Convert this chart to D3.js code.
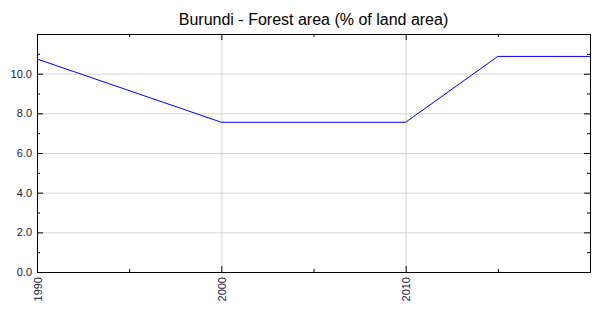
<!DOCTYPE html>
<html>
<head>
<meta charset="utf-8">
<script src="https://cdn.jsdelivr.net/npm/d3@7"></script>
<style>
  body { margin: 0; background: #fff; }
  text { font-family: "Liberation Sans", Arial, sans-serif; }
</style>
</head>
<body>
<svg width="600" height="315"></svg>
<script>
// data
const years = [1990, 2000, 2010, 2015, 2020];
const forestPct = [10.74, 7.55, 7.55, 10.87, 10.87];
const yTicks = [0, 2, 4, 6, 8, 10];
const xTicks = [1990, 2000, 2010];
const title = "Burundi - Forest area (% of land area)";

const svg = d3.select("svg");
const padL = 37, padR = 590, padT = 34, padB = 272;

const x = d3.scaleLinear().domain([1990, 2020]).range([padL, padR]);
const y = d3.scaleLinear().domain([0, 12]).range([padB, padT]);

// grid
svg.append("g").selectAll("line").data(yTicks.filter(d => d > 0)).enter().append("line")
  .attr("x1", padL).attr("x2", padR)
  .attr("y1", d => y(d) + 0.5).attr("y2", d => y(d) + 0.5)
  .attr("stroke", "#d3d3d3");
svg.append("g").selectAll("line").data(xTicks.filter(d => d > 1990)).enter().append("line")
  .attr("y1", padT).attr("y2", padB)
  .attr("x1", d => x(d) + 0.5).attr("x2", d => x(d) + 0.5)
  .attr("stroke", "#d3d3d3");

// inner ticks on all four sides
let yMinor = d3.range(1, 12, 2), xMinor = [1995, 2005, 2015];
let tk = svg.append("g").attr("stroke", "#000");
yTicks.forEach(d => {
  tk.append("line").attr("x1", padL).attr("x2", padL + 6).attr("y1", y(d) + 0.5).attr("y2", y(d) + 0.5);
  tk.append("line").attr("x1", padR).attr("x2", padR - 6).attr("y1", y(d) + 0.5).attr("y2", y(d) + 0.5);
});
yMinor.forEach(d => {
  tk.append("line").attr("x1", padL).attr("x2", padL + 3).attr("y1", y(d) + 0.5).attr("y2", y(d) + 0.5);
  tk.append("line").attr("x1", padR).attr("x2", padR - 3).attr("y1", y(d) + 0.5).attr("y2", y(d) + 0.5);
});
xTicks.forEach(d => {
  tk.append("line").attr("y1", padB).attr("y2", padB - 6).attr("x1", x(d) + 0.5).attr("x2", x(d) + 0.5);
  tk.append("line").attr("y1", padT).attr("y2", padT + 6).attr("x1", x(d) + 0.5).attr("x2", x(d) + 0.5);
});
xMinor.forEach(d => {
  tk.append("line").attr("y1", padB).attr("y2", padB - 3).attr("x1", x(d) + 0.5).attr("x2", x(d) + 0.5);
  tk.append("line").attr("y1", padT).attr("y2", padT + 3).attr("x1", x(d) + 0.5).attr("x2", x(d) + 0.5);
});

// the series
const line = d3.line().x(d => x(d[0])).y(d => y(d[1]));
svg.append("path")
  .datum(years.map((yr, i) => [yr, forestPct[i]]))
  .attr("d", line)
  .attr("fill", "none")
  .attr("stroke", "#0000ff")
  .attr("stroke-width", 1);

// frame
svg.append("rect")
  .attr("x", padL + 0.5).attr("y", padT + 0.5)
  .attr("width", padR - padL).attr("height", padB - padT)
  .attr("fill", "none").attr("stroke", "#000");

// labels
svg.append("g").selectAll("text").data(yTicks).enter().append("text")
  .attr("x", padL - 5).attr("y", d => y(d) + 4)
  .attr("text-anchor", "end")
  .attr("font-size", 11)
  .attr("fill", "#1a1a40")
  .text(d => d.toFixed(1));

svg.append("g").selectAll("text").data(xTicks).enter().append("text")
  .attr("transform", d => `translate(${x(d) + 4.5},${padB + 5}) rotate(-90)`)
  .attr("text-anchor", "end")
  .attr("font-size", 11)
  .attr("fill", "#1a1a40")
  .text(d => d);

svg.append("text")
  .attr("x", (padL + padR) / 2).attr("y", 25)
  .attr("text-anchor", "middle")
  .attr("font-size", 16)
  .attr("fill", "#000")
  .text(title);
</script>
</body>
</html>
